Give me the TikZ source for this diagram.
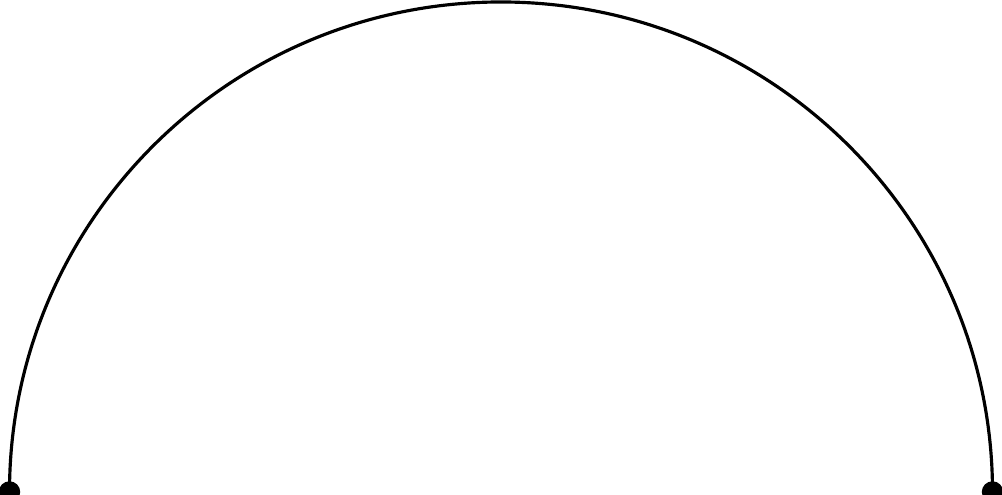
\documentclass[tikz,border=0pt]{standalone}
\usepackage{tikz}
\usepackage{xcolor}
\begin{document}
\begin{tikzpicture}
		\def\cx{5.01}
		\def\cy{0.03}
		\def\rx{4.915}
		\def\ry{4.90}
		\useasboundingbox (0,0) rectangle (10.02,4.95);
		\coordinate (a) at (\cx-\rx,\cy);
		\coordinate (b) at (\cx+\rx,\cy);
		% 		half circle between the two end points
		\draw[line width=0.9pt,-] (a) arc[start angle=180,end angle=0,x radius=\rx,y radius=\ry];
		\draw[fill] (a) circle [radius=0.1];
		\draw[fill] (b) circle [radius=0.1];
		\end{tikzpicture}
\end{document}
